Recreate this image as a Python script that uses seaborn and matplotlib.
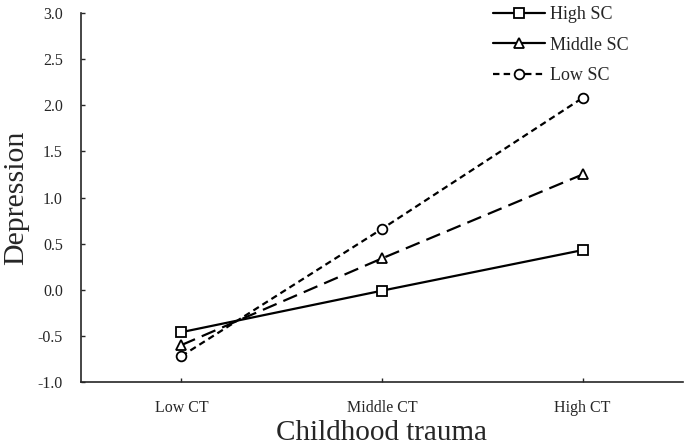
import matplotlib
matplotlib.use("Agg")
import matplotlib.pyplot as plt
from matplotlib.lines import Line2D
import seaborn as sns
import pandas as pd

categories = ["Low CT", "Middle CT", "High CT"]
high_sc = [-0.46, -0.01, 0.43]
middle_sc = [-0.60, 0.34, 1.25]
low_sc = [-0.72, 0.66, 2.08]
series_names = ["High SC", "Middle SC", "Low SC"]
y_ticks = [-1.0, -0.5, 0.0, 0.5, 1.0, 1.5, 2.0, 2.5, 3.0]

sns.set_style("ticks")
plt.rcParams["font.family"] = ["Liberation Serif", "DejaVu Serif"]

fig = plt.figure(figsize=(6.85, 4.48), dpi=100)
ax = fig.add_axes([81/685, 1-382/448, (683-81)/685, (382-13)/448])

styles = [
    dict(marker="s", linestyle="-"),
    dict(marker="^", linestyle=(0, (6.7, 3.3))),
    dict(marker="o", linestyle=(0, (2.9, 1.9))),
]
data = [high_sc, middle_sc, low_sc]
for name, vals, st in zip(series_names, data, styles):
    df = pd.DataFrame({"x": categories, "y": vals})
    sns.lineplot(data=df, x="x", y="y", ax=ax, color="black", lw=1.6,
                 marker=st["marker"], linestyle=st["linestyle"],
                 markersize=7, markerfacecolor="white",
                 markeredgecolor="black", markeredgewidth=1.3,
                 sort=False, legend=False)

ax.set_xlim(-0.5, 2.5)
ax.set_ylim(-1.0, 3.0)
ax.set_yticks(y_ticks)
ax.set_yticklabels([f"{v:.1f}" for v in y_ticks], fontsize=11.5)
ax.set_xticks(range(len(categories)))
ax.set_xticklabels(categories, fontsize=11.5)
ax.tick_params(axis="both", direction="in", length=3, width=1, colors="#262626")
ax.tick_params(axis="x", pad=13)
ax.tick_params(axis="y", pad=13)
for s in ["top", "right"]:
    ax.spines[s].set_visible(False)
for s in ["left", "bottom"]:
    ax.spines[s].set_linewidth(1.2)
    ax.spines[s].set_color("#262626")
ax.set_xlabel("Childhood trauma", fontsize=21, labelpad=3)
ax.set_ylabel("Depression", fontsize=21.5, labelpad=6)

handles = [
    Line2D([], [], color="black", lw=1.6, linestyle="-", marker="s",
           markersize=7, markerfacecolor="white", markeredgewidth=1.3),
    Line2D([], [], color="black", lw=1.6, linestyle="-", marker="^",
           markersize=7, markerfacecolor="white", markeredgewidth=1.3),
    Line2D([], [], color="black", lw=1.6, linestyle=(0, (2.9, 1.9)), marker="o",
           markersize=7, markerfacecolor="white", markeredgewidth=1.3),
]
fig.legend(handles, series_names, loc="upper left",
           bbox_to_anchor=(484/685, 1+3/448), frameon=False,
           fontsize=13, handlelength=2.9, labelspacing=0.75,
           borderpad=0, handletextpad=0.25)

fig.savefig("out.png", dpi=100)
